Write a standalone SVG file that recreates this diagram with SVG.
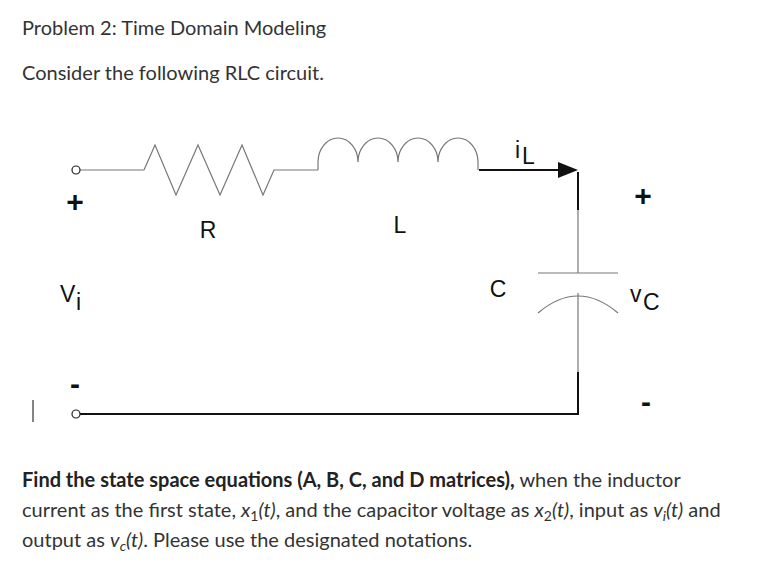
<svg xmlns="http://www.w3.org/2000/svg" width="763" height="576" viewBox="0 0 763 576">
<style>
.t{font-family:Lato,"Open Sans",sans-serif;font-size:20px;fill:#333}
.c{font-family:"Liberation Sans",Arial,sans-serif;font-size:23px;fill:#111}
.p{font-family:"Liberation Sans",Arial,sans-serif;font-size:30px;font-weight:bold;fill:#111}
.w{fill:none;stroke:#777;stroke-width:1.2}
.k{fill:none;stroke:#111;stroke-width:2}
</style>
<rect width="763" height="576" fill="#fff"/>
<text class="t" x="22" y="35">Problem 2: Time Domain Modeling</text>
<text class="t" x="22" y="80">Consider the following RLC circuit.</text>
<g id="connectors">
<path class="w" d="M80 170 H144"/>
<path class="k" d="M479 170 H560"/>
<path class="k" d="M578 172 V210"/>
<path class="w" d="M578 210 V273"/>
<path class="w" d="M578 293 V372"/>
<path class="k" d="M578 372 V414 H80"/>
<line x1="33" y1="400" x2="33" y2="422" stroke="#333" stroke-width="1.2"/>
</g>
<g id="vin">
<circle cx="76" cy="170" r="4" fill="#fff" stroke="#222" stroke-width="1.2"/>
<circle cx="76" cy="414" r="4" fill="#fff" stroke="#222" stroke-width="1.2"/>
<text class="p" x="75" y="212" text-anchor="middle">+</text>
<text class="p" x="75" y="394" text-anchor="middle">-</text>
<text class="c" x="60" y="302">V</text><text class="c" x="76" y="310" font-size="15">i</text>
</g>
<g id="R">
<path class="w" d="M144 170 L155 145 L176 195 L198 145 L220 195 L242 145 L263 195 L274 170 H318"/>
<text class="c" x="208" y="238" text-anchor="middle">R</text>
</g>
<g id="L">
<path class="w" d="M318 170 V162 A20 24 0 0 1 358 162 A20 24 0 0 1 398 162 A20 24 0 0 1 438 162 A20 24 0 0 1 478 162 V170"/>
<text class="c" x="400" y="233" text-anchor="middle">L</text>
</g>
<g id="iL">
<polygon points="558,162 578,170 558,178" fill="#111"/>
<text class="c" x="515" y="158">i</text><text class="c" x="522" y="164" font-size="15">L</text>
</g>
<g id="C">
<path class="w" d="M538 273 H618"/>
<path class="w" d="M538 313 Q578 279 618 313"/>
<text class="c" x="498" y="297" text-anchor="middle">C</text>
</g>
<g id="vC">
<text class="p" x="643" y="206" text-anchor="middle">+</text>
<text class="p" x="646" y="412" text-anchor="middle">-</text>
<text class="c" x="630" y="302">v</text><text class="c" x="643" y="310" font-size="16">C</text>
</g>
<text class="t" x="22" y="487"><tspan font-weight="bold" fill="#222">Find the state space equations (A, B, C, and D matrices),</tspan> when the inductor</text>
<text class="t" x="22" y="517">current as the first state, <tspan font-style="italic">x</tspan><tspan font-size="14" dy="4">1</tspan><tspan font-style="italic" dy="-4">(t)</tspan>, and the capacitor voltage as <tspan font-style="italic">x</tspan><tspan font-size="14" dy="4">2</tspan><tspan font-style="italic" dy="-4">(t)</tspan>, input as <tspan font-style="italic">v</tspan><tspan font-size="14" dy="4" font-style="italic">i</tspan><tspan font-style="italic" dy="-4">(t)</tspan> and</text>
<text class="t" x="22" y="547">output as <tspan font-style="italic">v</tspan><tspan font-size="14" dy="4" font-style="italic">c</tspan><tspan font-style="italic" dy="-4">(t)</tspan>. Please use the designated notations.</text>
</svg>
